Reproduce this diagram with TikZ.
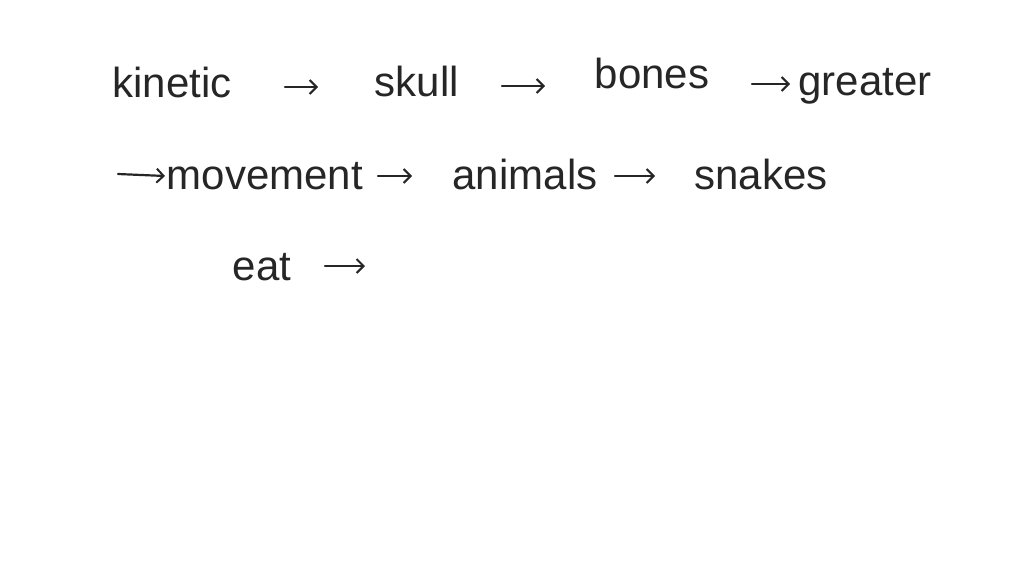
\documentclass[tikz,border=0pt]{standalone}
\usepackage{fontspec}
\setmainfont{Liberation Sans}
\usetikzlibrary{arrows.meta}
\begin{document}
\begin{tikzpicture}[x=1pt,y=-1pt,
  word/.style={font=\fontsize{42}{50}\selectfont, inner sep=0pt, anchor=base, text=black!85},
  arr/.style={-{Straight Barb[length=7pt,width=14pt,line width=2pt]}, line width=2.2pt, line cap=round, draw=black!85}]
\useasboundingbox (0,0) rectangle (1024,576);
% row 1
\node[word] (kinetic) at (172,97) {kinetic};
\node[word] (skull) at (417,96) {skull};
\node[word] (bones) at (652,88) {bones};
\node[word] (greater) at (865,95) {greater};
% row 2
\node[word] (movement) at (265,189) {movement};
\node[word] (animals) at (525,189) {animals};
\node[word] (snakes) at (761,189) {snakes};
% row 3
\node[word] (eat) at (262,280) {eat};
% arrow ends
\coordinate (a1s) at (285,87); \coordinate (a1e) at (318,87);
\coordinate (a2s) at (502,86); \coordinate (a2e) at (545,86);
\coordinate (a3s) at (752,84); \coordinate (a3e) at (790,84);
\coordinate (b0s) at (118,174); \coordinate (b0e) at (165,176);
\coordinate (b1s) at (378,176); \coordinate (b1e) at (412,176);
\coordinate (b2s) at (615,176); \coordinate (b2e) at (655,176);
\coordinate (c1s) at (325,266); \coordinate (c1e) at (365,266);
\foreach \s/\e in {a1s/a1e,a2s/a2e,a3s/a3e,b0s/b0e,b1s/b1e,b2s/b2e,c1s/c1e}
  \draw[arr] (\s) -- (\e);
\end{tikzpicture}
\end{document}
